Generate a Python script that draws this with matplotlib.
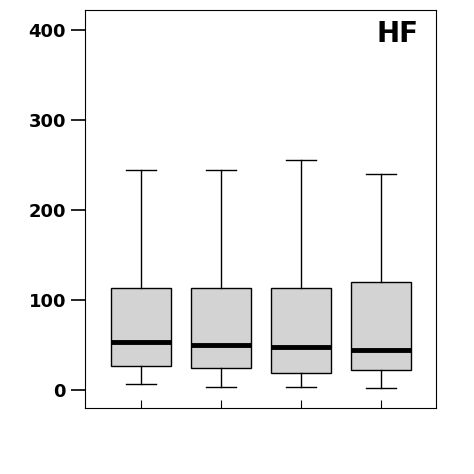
import matplotlib.pyplot as plt

groups = [1, 2, 3, 4]
whislo = [7, 3, 3, 2]
q1 = [27, 24, 19, 22]
med = [53, 50, 48, 44]
q3 = [113, 113, 113, 120]
whishi = [244, 244, 255, 240]

stats = [dict(whislo=a, q1=b, med=c, q3=d, whishi=e, fliers=[])
         for a, b, c, d, e in zip(whislo, q1, med, q3, whishi)]

fig = plt.figure(figsize=(4.74, 4.74), dpi=100)
ax = fig.add_axes([0.179, 0.139, 0.741, 0.84])
ax.bxp(stats, positions=groups, widths=0.75, patch_artist=True, showfliers=False,
       boxprops=dict(facecolor='#d3d3d3', edgecolor='black', linewidth=1),
       medianprops=dict(color='black', linewidth=3.5),
       whiskerprops=dict(color='black', linewidth=1),
       capprops=dict(color='black', linewidth=1))
ax.set_xlim(0.3, 4.69)
ax.set_ylim(-20, 422)
ax.set_yticks([0, 100, 200, 300, 400])
ax.set_xticks(groups)
ax.set_xticklabels([])
ax.tick_params(axis='y', length=10, width=1.2, labelsize=13)
ax.tick_params(axis='x', length=6, direction='in')
for lab in ax.get_yticklabels():
    lab.set_fontweight('bold')
ax.text(0.95, 0.94, 'HF', transform=ax.transAxes, ha='right', va='center',
        fontsize=20, fontweight='bold')
fig.savefig('out.png')
